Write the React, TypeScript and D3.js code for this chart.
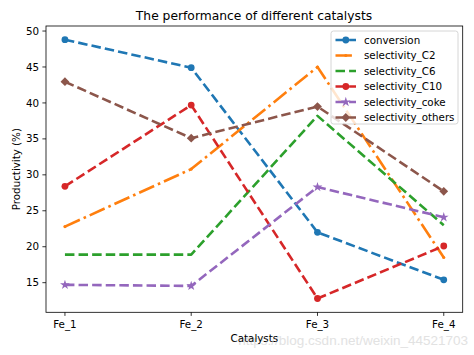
import React from "react";
import * as d3 from "d3";

const categories = ["Fe_1", "Fe_2", "Fe_3", "Fe_4"];
const conversion = [48.8, 44.9, 22.0, 15.4];
const selectivityC2 = [22.8, 30.8, 45.0, 18.5];
const selectivityC6 = [18.9, 18.9, 38.2, 23.0];
const selectivityC10 = [28.4, 39.7, 12.8, 20.1];
const selectivityCoke = [14.7, 14.55, 28.3, 24.1];
const selectivityOthers = [42.95, 35.1, 39.5, 27.7];
const yTicks = [15, 20, 25, 30, 35, 40, 45, 50];

type Marker = "circle" | "point" | "none" | "star" | "diamond";
const seriesDefs: { name: string; values: number[]; color: string; dash: string; marker: Marker }[] = [
  { name: "conversion", values: conversion, color: "#1f77b4", dash: "9.5,4.1", marker: "circle" },
  { name: "selectivity_C2", values: selectivityC2, color: "#ff7f0e", dash: "16.4,4.1,2.6,4.1", marker: "point" },
  { name: "selectivity_C6", values: selectivityC6, color: "#2ca02c", dash: "9.5,4.1", marker: "none" },
  { name: "selectivity_C10", values: selectivityC10, color: "#d62728", dash: "9.5,4.1", marker: "circle" },
  { name: "selectivity_coke", values: selectivityCoke, color: "#9467bd", dash: "9.5,4.1", marker: "star" },
  { name: "selectivity_others", values: selectivityOthers, color: "#8c564b", dash: "9.5,4.1", marker: "diamond" },
];

const W = 474, H = 355;
const left = 46, right = 462.7, top = 26, bottom = 312.3;
const font = "DejaVu Sans, sans-serif";

function MarkerShape({ type, x, y, color }: { type: Marker; x: number; y: number; color: string }) {
  if (type === "circle") return <circle cx={x} cy={y} r={3.4} fill={color} />;
  if (type === "point") return <circle cx={x} cy={y} r={1.6} fill={color} />;
  if (type === "diamond") {
    const s = 4.4;
    return <path d={`M${x},${y - s}L${x + s},${y}L${x},${y + s}L${x - s},${y}Z`} fill={color} />;
  }
  if (type === "star") {
    const p = d3.symbol().type(d3.symbolStar).size(30)();
    return <path d={p || ""} transform={`translate(${x},${y})`} fill={color} />;
  }
  return null;
}

export default function App() {
  const x = d3.scaleLinear().domain([-0.15, 3.15]).range([left, right]);
  const y = d3.scaleLinear().domain([10.88, 50.7]).range([bottom, top]);
  const line = d3
    .line<number>()
    .x((_, i) => x(i))
    .y((d) => y(d));

  const legX = 331, legY = 31, legW = 127, legH = 93;
  const rowH = 15.5;

  return (
    <svg width={W} height={H} style={{ position: "absolute", left: 0, top: 0, background: "#fff" }} fontFamily={font}>
      <rect x={0} y={0} width={W} height={H} fill="#fff" />
      <defs>
        <clipPath id="plotclip">
          <rect x={left} y={top} width={right - left} height={bottom - top} />
        </clipPath>
      </defs>
      <text x={254} y={19.5} textAnchor="middle" fontSize={12.3} fill="#000">
        The performance of different catalysts
      </text>

      {/* series */}
      <g clipPath="url(#plotclip)">
        {seriesDefs.map((s) => (
          <g key={s.name}>
            <path
              d={line(s.values) || ""}
              fill="none"
              stroke={s.color}
              strokeWidth={2.6}
              strokeDasharray={s.dash}
              strokeLinejoin="round"
            />
            {s.values.map((v, i) => (
              <MarkerShape key={i} type={s.marker} x={x(i)} y={y(v)} color={s.color} />
            ))}
          </g>
        ))}
      </g>

      {/* axes frame */}
      <rect x={left} y={top} width={right - left} height={bottom - top} fill="none" stroke="#000" strokeWidth={0.8} />

      {/* y ticks */}
      {yTicks.map((t) => (
        <g key={t}>
          <line x1={left - 3.6} x2={left} y1={y(t)} y2={y(t)} stroke="#000" strokeWidth={0.8} />
          <text x={left - 7} y={y(t)} dy="0.35em" textAnchor="end" fontSize={10.3} fill="#000">
            {t}
          </text>
        </g>
      ))}
      {/* x ticks */}
      {categories.map((c, i) => (
        <g key={c}>
          <line x1={x(i)} x2={x(i)} y1={bottom} y2={bottom + 3.6} stroke="#000" strokeWidth={0.8} />
          <text x={x(i)} y={bottom + 16} textAnchor="middle" fontSize={10.3} fill="#000">
            {c}
          </text>
        </g>
      ))}

      <text x={468} y={345} textAnchor="end" fontSize={13.5} fill="#e2e2e2" fontFamily="Liberation Sans, Arial, sans-serif">
        https://blog.csdn.net/weixin_44521703
      </text>
      <text x={(left + right) / 2} y={342} textAnchor="middle" fontSize={10.3} fill="#000">
        Catalysts
      </text>
      <text
        transform={`translate(20,${(top + bottom) / 2}) rotate(-90)`}
        textAnchor="middle"
        fontSize={10.3}
        fill="#000"
      >
        Productivity (%)
      </text>

      {/* legend */}
      <rect x={legX} y={legY} width={legW} height={legH} rx={2.5} fill="#fff" fillOpacity={0.8} stroke="#cccccc" strokeWidth={0.8} />
      {seriesDefs.map((s, i) => {
        const cy = legY + 9 + i * rowH;
        return (
          <g key={s.name}>
            <line x1={legX + 4.5} x2={legX + 25} y1={cy} y2={cy} stroke={s.color} strokeWidth={2.6} strokeDasharray={s.dash} />
            <MarkerShape type={s.marker} x={legX + 14.8} y={cy} color={s.color} />
            <text x={legX + 33} y={cy} dy="0.35em" fontSize={10.3} fill="#000">
              {s.name}
            </text>
          </g>
        );
      })}
    </svg>
  );
}
